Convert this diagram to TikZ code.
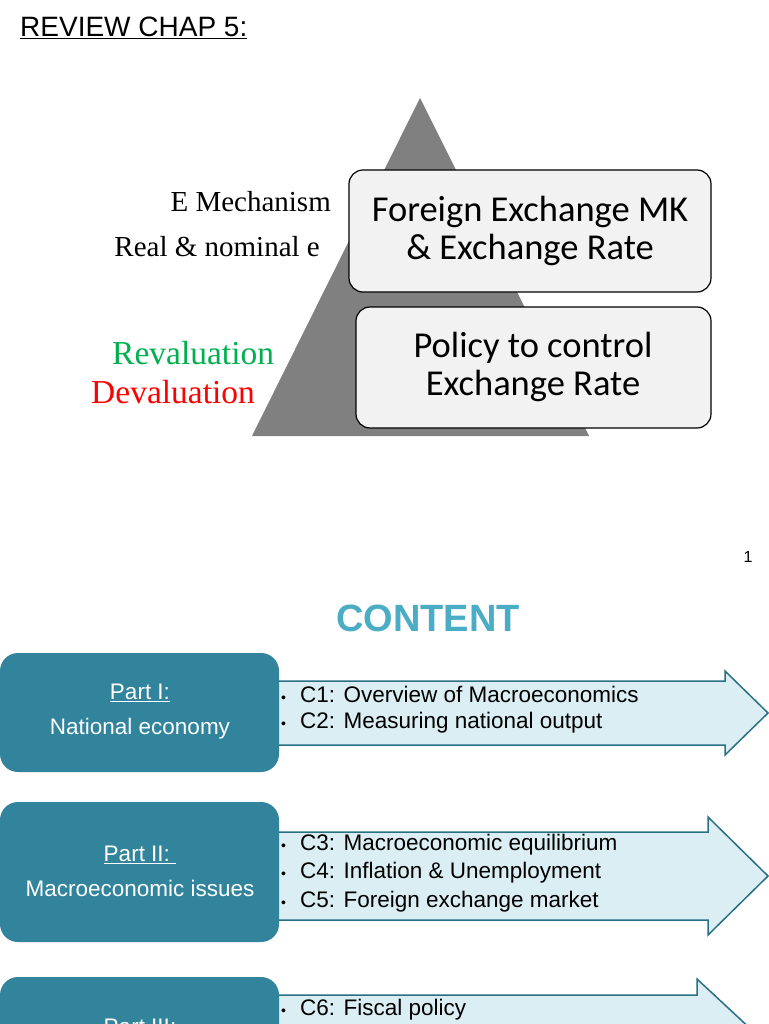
\documentclass[tikz,border=0pt]{standalone}
\usepackage{fontspec}
\setmainfont{Liberation Sans}
\newfontfamily\serifF{Liberation Serif}
\newfontfamily\calF{Carlito}
\usetikzlibrary{shapes.geometric}
\definecolor{teal}{HTML}{31849B}
\definecolor{lblue}{HTML}{DBEEF4}
\definecolor{ctitle}{HTML}{4BACC6}
\definecolor{rgreen}{HTML}{00B050}
\begin{document}
\begin{tikzpicture}[x=1pt,y=-1pt,
  gbox/.style={draw=black,line width=1.2pt,fill=black!5,rounded corners=14pt},
  part/.style={fill=teal,rounded corners=18pt},
  arr/.style={draw=teal!85!black,line width=1.5pt,fill=lblue},
  bul/.style={anchor=west,font=\fontsize{22.5}{25}\selectfont,inner sep=0pt},
  ptext/.style={text=white,align=center,font=\fontsize{22.5}{35}\selectfont},
  lab/.style={font=\serifF\fontsize{29}{32}\selectfont,inner sep=0pt}]
\useasboundingbox (0,0) rectangle (768,1024);
\fill[white] (0,0) rectangle (768,1024);
\node[anchor=base west,inner sep=0pt,font=\fontsize{28}{30}\selectfont] (title) at (20,37) {\underline{REVIEW CHAP 5:}};
\fill[black!50] (420,98) -- (589,436) -- (252,436) -- cycle;
\draw[gbox] (349,170) rectangle (711,292);
\node[align=center,font=\calF\fontsize{36.5}{38}\selectfont] (b1) at (530,231) {Foreign Exchange MK\\\& Exchange Rate};
\draw[gbox] (356,307) rectangle (711,428);
\node[align=center,font=\calF\fontsize{36.5}{38}\selectfont] (b2) at (533,367) {Policy to control\\Exchange Rate};
\node[lab,anchor=base east] (em) at (331,212) {E Mechanism};
\node[lab,anchor=base east] (rn) at (320,256) {Real \& nominal e};
\node[lab,anchor=base west,text=rgreen,font=\serifF\fontsize{33.5}{36}\selectfont] (rev) at (112,364) {Revaluation};
\node[lab,anchor=base west,text=red,font=\serifF\fontsize{33.5}{36}\selectfont] (dev) at (91,403) {Devaluation};
\node[anchor=base,inner sep=0pt,font=\fontsize{16}{18}\selectfont] (pg) at (748,562) {1};
\node[text=ctitle,font=\bfseries\fontsize{38}{40}\selectfont] (content) at (428,618) {CONTENT};
% arrows
\draw[arr] (272,681) -- (725,681) -- (725,671) -- (768,713) -- (725,755) -- (725,745) -- (272,745) -- cycle;
\draw[arr] (272,832) -- (708,832) -- (708,817) -- (768,876) -- (708,935) -- (708,920) -- (272,920) -- cycle;
\draw[arr] (272,995) -- (697,995) -- (697,979) -- (768,1045) -- (697,1110) -- (697,1090) -- (272,1090) -- cycle;
% part boxes
\fill[part] (0,653) rectangle (279,772);
\node[ptext] (p1) at (140,712) {\underline{Part I:}\\National economy};
\fill[part] (0,802) rectangle (279,942);
\node[ptext] (p2) at (140,871) {\underline{Part II: }\\Macroeconomic issues};
\fill[part] (0,977) rectangle (279,1110);
\node[ptext,anchor=base] (p3) at (140,1034) {\underline{Part III:}};
% bullets
\foreach \y/\t in {694/{C1: Overview of Macroeconomics},723/{C2: Measuring national output},845/{C3: Macroeconomic equilibrium},873/{C4: Inflation \& Unemployment},902/{C5: Foreign exchange market},1010/{C6: Fiscal policy}}
  \node[bul] at (281,\y) {\makebox[19pt][l]{\fontsize{14}{14}\selectfont\textbullet}\t};
\end{tikzpicture}
\end{document}
